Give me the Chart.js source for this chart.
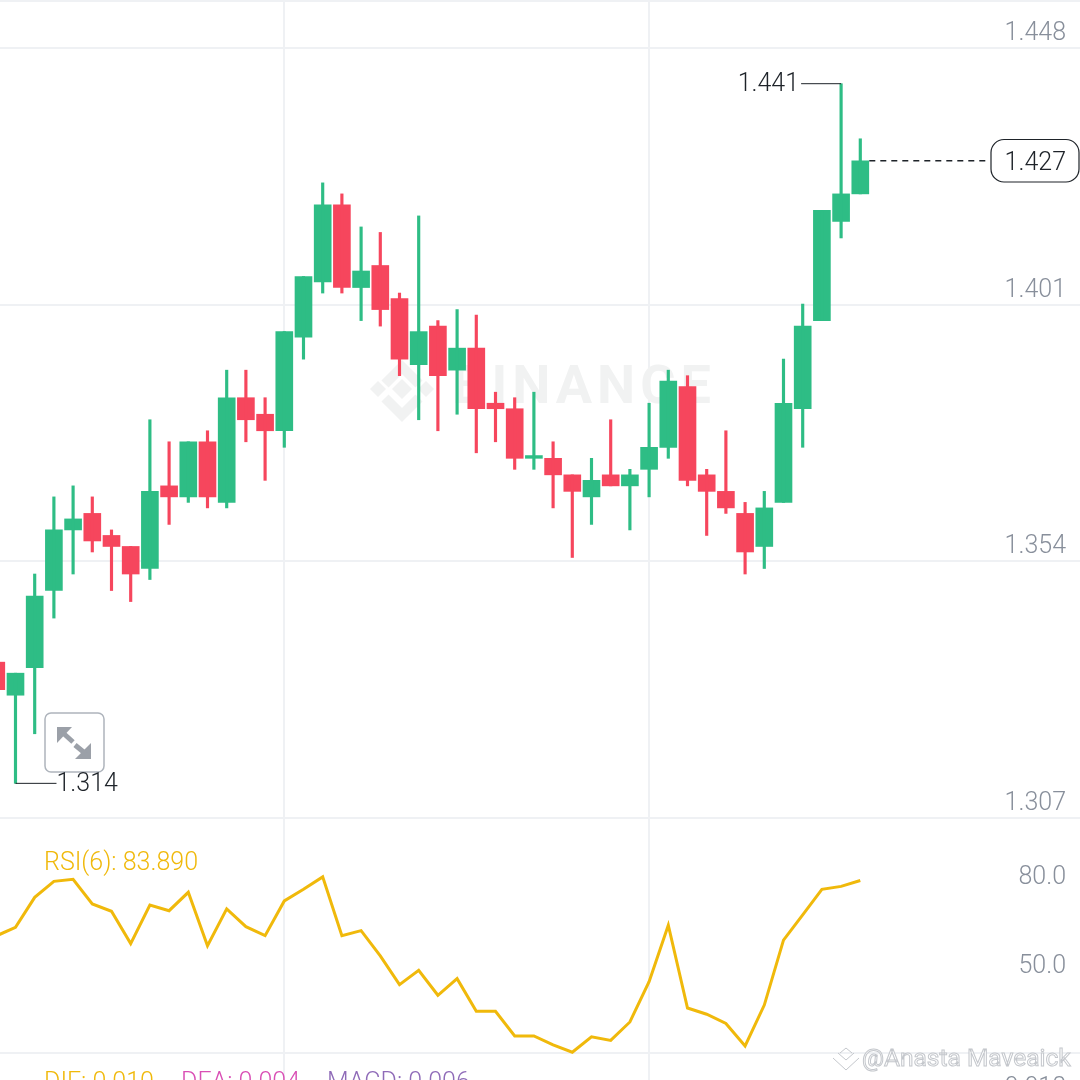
<!DOCTYPE html>
<html>
<head>
<meta charset="utf-8">
<title>Candles</title>
<script src="https://cdn.jsdelivr.net/npm/chart.js@4"></script>
<style>
    html, body { margin: 0; padding: 0; background: #ffffff; overflow: hidden; }
    canvas { display: block; }
</style>
</head>
<body>
<canvas id="chart" width="1080" height="1080"></canvas>
<script>
const candleOpen = [1.336, 1.330, 1.335, 1.349, 1.360, 1.363, 1.359, 1.357, 1.353, 1.368, 1.366, 1.376, 1.365, 1.384, 1.381, 1.378, 1.395, 1.405, 1.419, 1.404, 1.408, 1.402, 1.390, 1.397, 1.389, 1.393, 1.383, 1.382, 1.373, 1.373, 1.370, 1.366, 1.370, 1.368, 1.371, 1.375, 1.386, 1.370, 1.367, 1.363, 1.357, 1.365, 1.382, 1.398, 1.416, 1.421];
const candleClose = [1.331, 1.334, 1.348, 1.360, 1.362, 1.358, 1.357, 1.352, 1.367, 1.366, 1.376, 1.366, 1.384, 1.380, 1.378, 1.396, 1.406, 1.419, 1.404, 1.407, 1.400, 1.391, 1.396, 1.388, 1.393, 1.382, 1.382, 1.373, 1.3735, 1.370, 1.367, 1.369, 1.368, 1.370, 1.375, 1.387, 1.369, 1.367, 1.364, 1.356, 1.364, 1.383, 1.397, 1.418, 1.421, 1.427];
const candleHigh = [1.336, 1.334, 1.352, 1.366, 1.368, 1.366, 1.360, 1.357, 1.380, 1.376, 1.376, 1.378, 1.389, 1.389, 1.384, 1.396, 1.406, 1.423, 1.421, 1.415, 1.414, 1.403, 1.417, 1.398, 1.400, 1.399, 1.385, 1.384, 1.385, 1.376, 1.370, 1.373, 1.380, 1.371, 1.383, 1.389, 1.388, 1.371, 1.378, 1.365, 1.367, 1.391, 1.401, 1.418, 1.441, 1.431];
const candleLow = [1.331, 1.314, 1.323, 1.344, 1.352, 1.356, 1.349, 1.347, 1.351, 1.361, 1.365, 1.364, 1.364, 1.376, 1.369, 1.375, 1.391, 1.403, 1.403, 1.398, 1.397, 1.388, 1.380, 1.378, 1.381, 1.374, 1.376, 1.371, 1.371, 1.364, 1.355, 1.361, 1.368, 1.360, 1.366, 1.373, 1.368, 1.359, 1.363, 1.352, 1.353, 1.365, 1.375, 1.398, 1.413, 1.421];
const rsiValues = [65.2, 68.1, 78.2, 83.6, 84.3, 76.0, 73.5, 62.6, 75.6, 73.7, 79.9, 61.9, 74.3, 68.3, 65.3, 77.0, 80.9, 85.1, 65.3, 67.0, 58.5, 48.8, 53.6, 45.2, 50.8, 39.8, 39.8, 31.5, 31.5, 28.5, 26.0, 31.2, 30.0, 36.2, 49.8, 68.8, 40.9, 38.8, 35.7, 28.1, 41.9, 63.8, 72.3, 80.9, 81.9, 83.89];

// tick labels on the app are rounded, so the real levels sit a bit off them
const priceTickValues = [1.45601, 1.44748, 1.40083, 1.35436, 1.30771, 1.26505];
const priceTickLabels = ['', '1.448', '1.401', '1.354', '1.307', ''];
const rsiTickValues = [80, 50];
const timeGridCandles = [14, 33];

const GREEN = '#2ebd85';
const RED = '#f6465d';
const YELLOW = '#f0b90b';
const GRID = '#eff1f4';
const GRAY = '#888f9b';
const DARK = '#1e2329';
const FONT = '"Roboto", sans-serif';

// first candle is cut off by the left edge
const candleX = candleOpen.map((_, i) => i - 1);
const candleColor = candleOpen.map((open, i) => (candleClose[i] >= open ? GREEN : RED));

function drawText(ctx, text, x, y, color, align) {
    ctx.font = '300 25px ' + FONT;
    ctx.fillStyle = color;
    ctx.textAlign = align || 'left';
    ctx.textBaseline = 'middle';
    ctx.fillText(text, x, y);
}

function drawDiamond(ctx, x, y, r) {
    ctx.beginPath();
    ctx.moveTo(x, y - r);
    ctx.lineTo(x + r, y);
    ctx.lineTo(x, y + r);
    ctx.lineTo(x - r, y);
    ctx.closePath();
    ctx.fill();
}

const backgroundMark = {
    id: 'backgroundMark',
    beforeDatasetsDraw(chart) {
        const ctx = chart.ctx;
        ctx.save();
        ctx.fillStyle = '#f1f2f2';
        ctx.strokeStyle = '#f1f2f2';
        ctx.lineWidth = 10;
        ctx.lineJoin = 'miter';
        drawDiamond(ctx, 402, 389, 10);
        drawDiamond(ctx, 378, 389, 8);
        drawDiamond(ctx, 426, 389, 8);
        ctx.beginPath();
        ctx.moveTo(385, 384);
        ctx.lineTo(402, 367);
        ctx.lineTo(419, 384);
        ctx.moveTo(385, 398);
        ctx.lineTo(402, 415);
        ctx.lineTo(419, 398);
        ctx.stroke();
        ctx.font = '700 54px ' + FONT;
        ctx.letterSpacing = '5px';
        ctx.textAlign = 'left';
        ctx.textBaseline = 'middle';
        ctx.fillText('BINANCE', 452, 389);
        ctx.restore();
    }
};

const overlay = {
    id: 'overlay',
    afterDatasetsDraw(chart) {
        const ctx = chart.ctx;
        const x = chart.scales.x;
        const y = chart.scales.yPrice;
        const maxHigh = Math.max(...candleHigh);
        const minLow = Math.min(...candleLow);
        const highX = x.getPixelForValue(candleX[candleHigh.indexOf(maxHigh)]);
        const lowX = x.getPixelForValue(candleX[candleLow.indexOf(minLow)]);
        const lastClose = candleClose[candleClose.length - 1];
        const lastY = y.getPixelForValue(lastClose);
        const lastX = x.getPixelForValue(candleX[candleX.length - 1]);

        ctx.save();
        ctx.strokeStyle = DARK;
        ctx.lineWidth = 1;

        // highest and lowest price markers
        ctx.beginPath();
        ctx.moveTo(highX, y.getPixelForValue(maxHigh));
        ctx.lineTo(highX - 40, y.getPixelForValue(maxHigh));
        ctx.moveTo(lowX, y.getPixelForValue(minLow));
        ctx.lineTo(lowX + 41, y.getPixelForValue(minLow));
        ctx.stroke();
        drawText(ctx, maxHigh.toFixed(3), highX - 42, y.getPixelForValue(maxHigh) + 1, DARK, 'right');

        // expand button
        ctx.strokeStyle = '#aeb4bc';
        ctx.lineWidth = 1.5;
        ctx.fillStyle = '#ffffff';
        ctx.beginPath();
        ctx.roundRect(45, 713, 59, 59, 6);
        ctx.fill();
        ctx.stroke();
        ctx.fillStyle = '#9ba0a8';
        ctx.beginPath();
        ctx.moveTo(57, 727);
        ctx.lineTo(72, 727);
        ctx.lineTo(57, 743);
        ctx.closePath();
        ctx.moveTo(91, 759);
        ctx.lineTo(75, 759);
        ctx.lineTo(91, 743);
        ctx.closePath();
        ctx.fill();
        ctx.strokeStyle = '#9ba0a8';
        ctx.lineWidth = 5;
        ctx.beginPath();
        ctx.moveTo(62, 732);
        ctx.lineTo(73, 742);
        ctx.moveTo(75, 745);
        ctx.lineTo(86, 754);
        ctx.stroke();

        drawText(ctx, minLow.toFixed(3), lowX + 41, y.getPixelForValue(minLow) + 1, DARK);

        // last price line and box
        ctx.strokeStyle = DARK;
        ctx.lineWidth = 1.5;
        ctx.setLineDash([6, 5]);
        ctx.beginPath();
        ctx.moveTo(lastX + 9, lastY);
        ctx.lineTo(990, lastY);
        ctx.stroke();
        ctx.setLineDash([]);
        ctx.lineWidth = 1.2;
        ctx.beginPath();
        ctx.roundRect(991, 139.5, 88, 42.5, 13);
        ctx.stroke();
        drawText(ctx, lastClose.toFixed(3), 1066, lastY + 3, DARK, 'right');

        // indicator headers
        drawText(ctx, 'RSI(6): 83.890', 44, 864, YELLOW);
        drawText(ctx, 'DIF: 0.010', 44, 1084, YELLOW);
        drawText(ctx, 'DEA: 0.004', 181, 1084, '#d94fb5');
        drawText(ctx, 'MACD: 0.006', 327, 1084, '#8f6bb8');
        drawText(ctx, '0.018', 1066, 1089, GRAY, 'right');

        // author stamp over everything
        ctx.strokeStyle = '#c4c7cc';
        ctx.fillStyle = '#ffffff';
        ctx.lineWidth = 1;
        ctx.beginPath();
        ctx.moveTo(833, 1058);
        ctx.lineTo(846, 1070);
        ctx.lineTo(859, 1058);
        ctx.moveTo(838, 1053);
        ctx.lineTo(846, 1060);
        ctx.lineTo(854, 1053);
        ctx.moveTo(840, 1053);
        ctx.lineTo(846, 1048);
        ctx.lineTo(852, 1053);
        ctx.stroke();
        ctx.font = '400 24.5px ' + FONT;
        ctx.textAlign = 'left';
        ctx.textBaseline = 'alphabetic';
        ctx.fillText('@Anasta Maveaick', 862, 1066);
        ctx.strokeText('@Anasta Maveaick', 862, 1066);
        ctx.restore();
    }
};

function zeroAxisSize(scale) {
    scale.width = 0;
    scale.paddingTop = 0;
    scale.paddingBottom = 0;
}

new Chart(document.getElementById('chart').getContext('2d'), {
    data: {
        datasets: [
            {
                type: 'bar',
                yAxisID: 'yPrice',
                grouped: false,
                barThickness: 2.5,
                borderSkipped: false,
                backgroundColor: candleColor,
                data: candleX.map((x, i) => ({ x: x, y: [candleLow[i], candleHigh[i]] }))
            },
            {
                type: 'bar',
                yAxisID: 'yPrice',
                grouped: false,
                barThickness: 17,
                borderSkipped: false,
                backgroundColor: candleColor,
                data: candleX.map((x, i) => ({ x: x, y: [candleOpen[i], candleClose[i]] }))
            },
            {
                type: 'line',
                yAxisID: 'yRsi',
                borderColor: YELLOW,
                borderWidth: 3,
                pointRadius: 0,
                tension: 0,
                data: candleX.map((x, i) => ({ x: x, y: rsiValues[i] }))
            }
        ]
    },
    plugins: [backgroundMark, overlay],
    options: {
        responsive: false,
        devicePixelRatio: 1,
        animation: false,
        layout: { padding: 0 },
        plugins: {
            legend: { display: false },
            tooltip: { enabled: false }
        },
        scales: {
            x: {
                type: 'linear',
                min: -0.807,
                max: 55.443,
                offset: false,
                afterBuildTicks(scale) {
                    scale.ticks = timeGridCandles.map((value) => ({ value: value }));
                },
                ticks: { display: false },
                border: { display: false },
                grid: { color: GRID, lineWidth: 2, drawTicks: false, offset: false }
            },
            yPrice: {
                type: 'linear',
                position: 'right',
                min: 1.260153,
                max: 1.456193,
                afterBuildTicks(scale) {
                    scale.ticks = priceTickValues.map((value) => ({ value: value }));
                },
                afterFit: zeroAxisSize,
                ticks: {
                    mirror: true,
                    padding: -14,
                    labelOffset: -14,
                    color: GRAY,
                    font: { family: FONT, size: 25, weight: 300 },
                    callback: (value) => priceTickLabels[priceTickValues.indexOf(value)]
                },
                border: { display: false },
                grid: { color: GRID, lineWidth: 2, drawTicks: false }
            },
            yRsi: {
                type: 'linear',
                position: 'right',
                min: 16.64,
                max: 380.64,
                afterBuildTicks(scale) {
                    scale.ticks = rsiTickValues.map((value) => ({ value: value }));
                },
                afterFit: zeroAxisSize,
                ticks: {
                    mirror: true,
                    padding: -14,
                    labelOffset: -14,
                    color: GRAY,
                    font: { family: FONT, size: 25, weight: 300 },
                    callback: (value) => value.toFixed(1)
                },
                border: { display: false },
                grid: { display: false }
            }
        }
    }
});
</script>
</body>
</html>
